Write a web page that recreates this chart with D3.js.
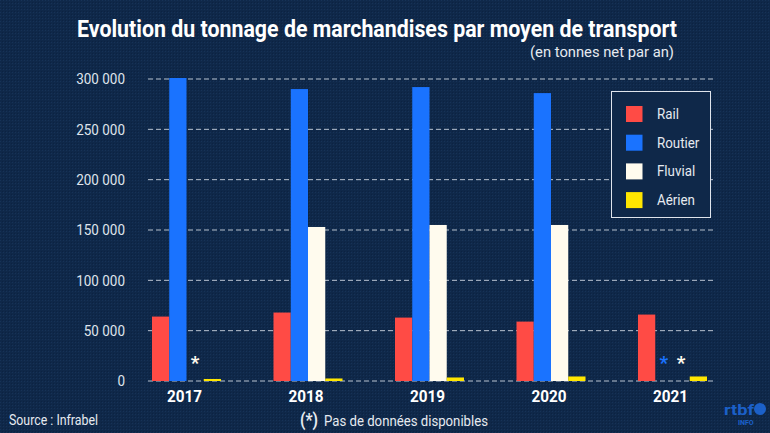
<!DOCTYPE html>
<html>
<head>
<meta charset="utf-8">
<script src="https://cdn.jsdelivr.net/npm/d3@7"></script>
<style>
  html, body { margin: 0; padding: 0; background: #0f2849; }
  svg { display: block; }
</style>
</head>
<body>
<svg id="chart" width="770" height="433"></svg>
<script>
const years = ['2017', '2018', '2019', '2020', '2021']
const modes = ['Rail', 'Routier', 'Fluvial', 'Aérien']
const modeColors = ['#ff4b45', '#1a73ff', '#fffbee', '#ffe600']

// null = pas de données
const rail = [64000, 68000, 63000, 59000, 66000]
const routier = [301000, 290000, 292000, 286000, null]
const fluvial = [null, 153000, 155000, 155000, null]
const aerien = [2000, 2500, 3500, 4500, 4500]

const yTicks = [0, 50000, 100000, 150000, 200000, 250000, 300000]

const series = [rail, routier, fluvial, aerien]

const svg = d3.select('#chart')
const W = 770
const H = 433

// fond texturé
const defs = svg.append('defs')
const pat = defs.append('pattern')
  .attr('id', 'grain')
  .attr('width', 3)
  .attr('height', 3)
  .attr('patternUnits', 'userSpaceOnUse')
pat.append('rect').attr('width', 3).attr('height', 3).attr('fill', '#0f2849')
pat.append('rect').attr('x', 0).attr('y', 0).attr('width', 1).attr('height', 1).attr('fill', '#163257')
pat.append('rect').attr('x', 2).attr('y', 2).attr('width', 1).attr('height', 1).attr('fill', '#0b2242')

svg.append('rect').attr('width', W).attr('height', H).attr('fill', 'url(#grain)')

const y = d3.scaleLinear().domain([0, 300000]).range([381, 79])

const x0 = d3.scaleBand()
  .domain(years)
  .range([152, 707])
  .paddingInner(0.432)
  .paddingOuter(0)

const x1 = d3.scaleBand()
  .domain(modes)
  .range([0, x0.bandwidth()])
  .padding(0)

const fmt = v => d3.format(',')(v).replace(/,/g, ' ')

// grille
const grid = svg.append('g').attr('class', 'grid')
grid.selectAll('line')
  .data(yTicks)
  .enter()
  .append('line')
  .attr('x1', 148)
  .attr('x2', 716)
  .attr('y1', d => y(d))
  .attr('y2', d => y(d))
  .attr('stroke', '#b8c2d0')
  .attr('stroke-width', 1)
  .attr('stroke-dasharray', '5,3')

// axe y (police condensée simulée par un scale horizontal)
const yAxis = d3.axisLeft(y).tickValues(yTicks).tickFormat(fmt).tickSize(0).tickPadding(0)
const yg = svg.append('g').attr('transform', 'translate(125,0)').call(yAxis)
yg.select('.domain').remove()
yg.selectAll('text')
  .attr('fill', '#dfe4ec')
  .attr('transform', 'scale(0.9,1)')
  .style('font-family', 'Roboto, sans-serif')
  .style('font-size', '15px')

// barres
const groups = svg.append('g').selectAll('g')
  .data(years)
  .enter()
  .append('g')
  .attr('transform', d => `translate(${x0(d)},0)`)

groups.selectAll('rect')
  .data((d, i) => modes.map((m, j) => ({ mode: m, value: series[j][i], color: modeColors[j] })))
  .enter()
  .filter(d => d.value !== null)
  .append('rect')
  .attr('x', d => x1(d.mode))
  .attr('y', d => y(d.value))
  .attr('width', x1.bandwidth())
  .attr('height', d => y(0) - y(d.value))
  .attr('fill', d => d.color)

// astérisques pour données manquantes
groups.selectAll('text.missing')
  .data((d, i) => modes.map((m, j) => ({ mode: m, value: series[j][i], color: modeColors[j] })))
  .enter()
  .filter(d => d.value === null)
  .append('text')
  .attr('class', 'missing')
  .attr('x', d => x1(d.mode) + x1.bandwidth() / 2)
  .attr('y', 369)
  .attr('text-anchor', 'middle')
  .attr('fill', d => d.color)
  .style('font-family', 'Roboto, sans-serif')
  .style('font-weight', '700')
  .style('font-size', '19px')
  .text('*')

// axe x
const xAxis = d3.axisBottom(x0).tickSize(0).tickPadding(0)
const xg = svg.append('g').attr('transform', 'translate(0,386)').call(xAxis)
xg.select('.domain').remove()
xg.selectAll('text')
  .attr('fill', '#ffffff')
  .attr('dy', '0.95em')
  .attr('transform', 'translate(-2,0) scale(0.9,1)')
  .style('font-family', 'Roboto, sans-serif')
  .style('font-weight', '700')
  .style('font-size', '17px')

// légende
const legend = svg.append('g')
legend.append('rect')
  .attr('x', 611.5)
  .attr('y', 91.5)
  .attr('width', 99)
  .attr('height', 126)
  .attr('fill', '#0f2849')
  .attr('stroke', '#dfe4ec')
  .attr('stroke-width', 1)

const items = legend.selectAll('g.item')
  .data(modes)
  .enter()
  .append('g')
  .attr('class', 'item')
  .attr('transform', (d, i) => `translate(626,${106 + i * 28.7})`)
items.append('rect')
  .attr('width', 16.5)
  .attr('height', 16)
  .attr('fill', (d, i) => modeColors[i])
items.append('text')
  .attr('transform', 'translate(31,13) scale(0.92,1)')
  .attr('fill', '#e6eaf0')
  .style('font-family', 'Roboto, sans-serif')
  .style('font-size', '14.5px')
  .text(d => d)

// titres
svg.append('text')
  .attr('x', 77)
  .attr('y', 37)
  .attr('textLength', 600)
  .attr('lengthAdjust', 'spacingAndGlyphs')
  .attr('fill', '#ffffff')
  .style('font-family', 'Roboto, sans-serif')
  .style('font-weight', '700')
  .style('font-size', '23px')
  .text('Evolution du tonnage de marchandises par moyen de transport')

svg.append('text')
  .attr('x', 674)
  .attr('y', 57)
  .attr('text-anchor', 'end')
  .attr('textLength', 144)
  .attr('lengthAdjust', 'spacingAndGlyphs')
  .attr('fill', '#e6eaf0')
  .style('font-family', 'Roboto, sans-serif')
  .style('font-size', '14.5px')
  .text('(en tonnes net par an)')

// pied
svg.append('text')
  .attr('x', 9)
  .attr('y', 425)
  .attr('textLength', 89)
  .attr('lengthAdjust', 'spacingAndGlyphs')
  .attr('fill', '#e6eaf0')
  .style('font-family', 'Roboto, sans-serif')
  .style('font-size', '14px')
  .text('Source : Infrabel')

svg.append('text')
  .attr('x', 300)
  .attr('y', 426)
  .attr('textLength', 18)
  .attr('lengthAdjust', 'spacingAndGlyphs')
  .attr('fill', '#e6eaf0')
  .style('font-family', 'Roboto, sans-serif')
  .style('font-size', '19px')
  .style('font-weight', '700')
  .text('(*)')

svg.append('text')
  .attr('x', 324)
  .attr('y', 426)
  .attr('textLength', 164)
  .attr('lengthAdjust', 'spacingAndGlyphs')
  .attr('fill', '#e6eaf0')
  .style('font-family', 'Roboto, sans-serif')
  .style('font-size', '15.5px')
  .text('Pas de données disponibles')

// logo
const logo = svg.append('g').attr('opacity', 0.8)
logo.append('text')
  .attr('x', 724)
  .attr('y', 415)
  .attr('textLength', 30)
  .attr('lengthAdjust', 'spacingAndGlyphs')
  .attr('fill', '#1f6fe8')
  .style('font-family', 'Roboto, sans-serif')
  .style('font-weight', '700')
  .style('font-size', '14px')
  .text('rtbf')
logo.append('circle')
  .attr('cx', 760)
  .attr('cy', 409)
  .attr('r', 6)
  .attr('fill', '#1f6fe8')
logo.append('text')
  .attr('x', 738)
  .attr('y', 425)
  .attr('fill', '#1f6fe8')
  .style('font-family', 'Roboto, sans-serif')
  .style('font-weight', '700')
  .style('font-size', '7px')
  .text('INFO')
</script>
</body>
</html>
